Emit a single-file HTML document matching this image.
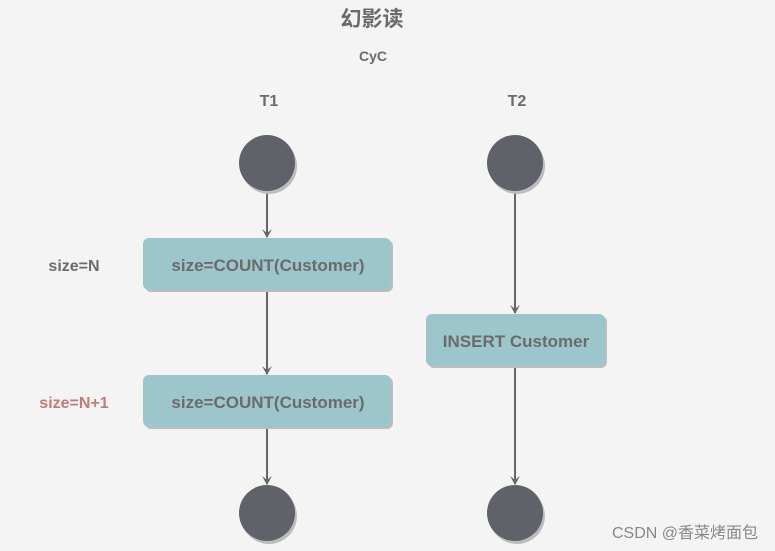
<!DOCTYPE html>
<html><head><meta charset="utf-8"><style>
html,body{margin:0;padding:0;background:#f4f4f4;}
svg{display:block}
text{font-family:"Liberation Sans","Noto Sans CJK SC",sans-serif;font-weight:bold;fill:#6b6b6b}
</style></head><body>
<svg width="775" height="551" viewBox="0 0 775 551" xmlns="http://www.w3.org/2000/svg">
<rect width="775" height="551" fill="#f4f4f4"/>
<defs>
<marker id="a" markerWidth="10" markerHeight="10" refX="8" refY="5" orient="auto" markerUnits="userSpaceOnUse">
<path d="M0,0 L9,5 L0,10 L4,5 Z" fill="#666"/>
</marker>
</defs>
<text x="372" y="26" font-size="21" text-anchor="middle" fill="#777">幻影读</text>
<text x="373" y="61" font-size="14" text-anchor="middle" fill="#777">CyC</text>
<text x="269" y="106" font-size="16" text-anchor="middle">T1</text>
<text x="517" y="106" font-size="16" text-anchor="middle">T2</text>
<g stroke="#666" stroke-width="2" fill="none">
<line x1="267" y1="191" x2="267" y2="237" marker-end="url(#a)"/>
<line x1="267" y1="290" x2="267" y2="374" marker-end="url(#a)"/>
<line x1="267" y1="427" x2="267" y2="484" marker-end="url(#a)"/>
<line x1="515" y1="191" x2="515" y2="313" marker-end="url(#a)"/>
<line x1="515" y1="366" x2="515" y2="484" marker-end="url(#a)"/>
</g>
<g fill="#bdbdbd">
<circle cx="269" cy="166" r="28"/><circle cx="517" cy="166" r="28"/>
<circle cx="269" cy="516" r="28"/><circle cx="517" cy="516" r="28"/>
<rect x="145" y="240" width="248" height="52" rx="6"/>
<rect x="145" y="377" width="248" height="52" rx="6"/>
<rect x="428" y="316" width="179" height="52" rx="6"/>
</g>
<g fill="#5f6269">
<circle cx="267" cy="163" r="28"/><circle cx="515" cy="163" r="28"/>
<circle cx="267" cy="513" r="28"/><circle cx="515" cy="513" r="28"/>
</g>
<g fill="#9cc6cc">
<rect x="143" y="238" width="248" height="52" rx="6"/>
<rect x="143" y="375" width="248" height="52" rx="6"/>
<rect x="426" y="314" width="179" height="52" rx="6"/>
</g>
<text x="268" y="271" font-size="17" text-anchor="middle">size=COUNT(Customer)</text>
<text x="268" y="408" font-size="17" text-anchor="middle">size=COUNT(Customer)</text>
<text x="516" y="347" font-size="17" text-anchor="middle">INSERT Customer</text>
<text x="74" y="271" font-size="16" text-anchor="middle">size=N</text>
<text x="74" y="408" font-size="16" text-anchor="middle" fill="#c17b78" style="fill:#c17b78">size=N+1</text>
<text x="758" y="538" font-size="16" text-anchor="end" style="font-weight:normal;fill:#888">CSDN @香菜烤面包</text>
</svg>
</body></html>
